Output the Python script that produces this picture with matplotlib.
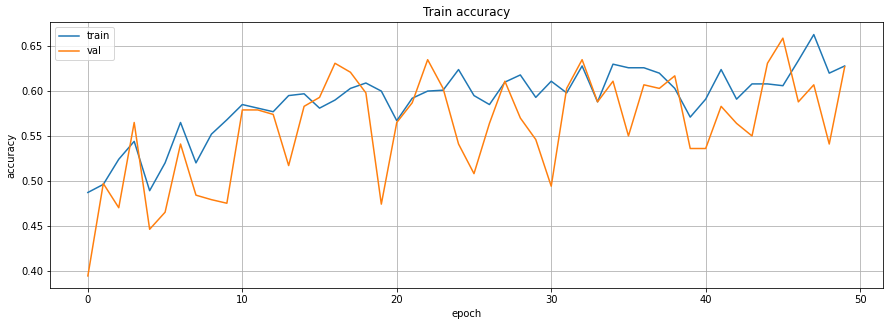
import matplotlib
matplotlib.use('Agg')
import matplotlib.pyplot as plt

# accuracy per epoch
train_acc = [0.487, 0.496, 0.524, 0.544, 0.489, 0.520, 0.565, 0.520, 0.552, 0.568,
             0.585, 0.581, 0.577, 0.595, 0.597, 0.581, 0.590, 0.603, 0.609, 0.600,
             0.567, 0.592, 0.600, 0.601, 0.624, 0.595, 0.585, 0.610, 0.618, 0.593,
             0.611, 0.598, 0.628, 0.588, 0.630, 0.626, 0.626, 0.620, 0.603, 0.571,
             0.591, 0.624, 0.591, 0.608, 0.608, 0.606, 0.634, 0.663, 0.620, 0.628]
val_acc = [0.394, 0.497, 0.470, 0.565, 0.446, 0.465, 0.541, 0.484, 0.479, 0.475,
           0.579, 0.579, 0.574, 0.517, 0.583, 0.593, 0.631, 0.621, 0.598, 0.474,
           0.565, 0.587, 0.635, 0.603, 0.541, 0.508, 0.564, 0.611, 0.570, 0.546,
           0.494, 0.603, 0.635, 0.588, 0.611, 0.550, 0.607, 0.603, 0.617, 0.536,
           0.536, 0.583, 0.564, 0.550, 0.631, 0.659, 0.588, 0.607, 0.541, 0.627]
epochs = list(range(len(train_acc)))

# original was saved at 72 dpi, so fonts look smaller
fig = plt.figure(figsize=(890 / 72, 326 / 72), dpi=72)
ax = fig.add_axes([0.0562, 0.1166, 0.9354, 0.8144])

ax.plot(epochs, train_acc, label='train')
ax.plot(epochs, val_acc, label='val')

ax.set_title('Train accuracy')
ax.set_xlabel('epoch')
ax.set_ylabel('accuracy')
ax.legend(loc='upper left')
ax.grid(True)

fig.savefig('out.png', dpi=72)
